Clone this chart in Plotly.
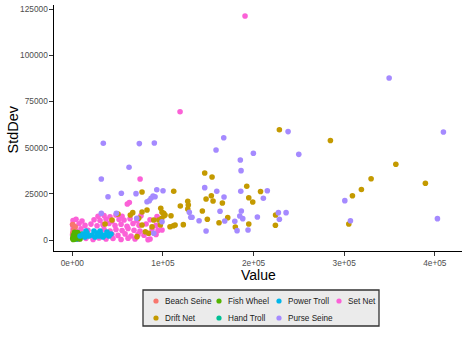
import plotly.graph_objects as go

# Gear types (alphabetical, as in the legend) and their hue palette
gears = ["Beach Seine", "Drift Net", "Fish Wheel", "Hand Troll",
         "Power Troll", "Purse Seine", "Set Net"]
gear_colors = ["#F8766D", "#C49A00", "#53B400", "#00C094",
               "#00B6EB", "#A58AFF", "#FB61D7"]

# ---- Value / StdDev per gear type ----
beach_seine_value = [400, 1800, 3200, 600]
beach_seine_sd = [8400, 5600, 7200, 3900]

drift_net_value = [228500, 284800, 357000, 389600, 329700, 319000, 309100, 305100,
                   146100, 154200, 153400, 147600, 155300, 165600, 192500, 207700,
                   194700, 199100, 171500, 161900, 179900, 194700, 224300, 224100,
                   149000, 143500, 127400, 127400, 119200, 122500, 111900, 76950,
                   128000, 111500, 108900, 101200, 97600, 99000, 102300, 98700,
                   107800, 113400, 64000, 66700, 73300, 76950, 80600, 82450,
                   84350, 88000, 89850, 95400, 97150, 100900, 71400, 76950,
                   43800, 50450, 36100]
drift_net_sd = [59750, 53900, 41000, 30700, 33200, 27350, 24000, 8650,
                36300, 34150, 24000, 22200, 21150, 20050, 29100, 26250,
                22900, 20600, 12100, 9350, 7050, 8650, 13550, 7950,
                11200, 15700, 16800, 20950, 18400, 8300, 26400, 26000,
                18950, 7750, 13150, 13150, 17150, 15000, 13550, 11750,
                7200, 8150, 13550, 14800, 11750, 8150, 4500, 16250,
                3650, 7200, 10850, 10850, 8150, 14450, 1800, 15150,
                10850, 14100, 8650]

fish_wheel_value = [500, 1200, 2000, 3000, 3800, 4500, 5500, 6500, 7500, 8500,
                    9500, 2500, 6000, 10500, 1000]
fish_wheel_sd = [1000, 2600, 400, 1800, 3500, 800, 2300, 1200, 3000, 600,
                 1900, 4200, 4000, 3100, 300]

hand_troll_value = [2200, 4800, 6800]
hand_troll_sd = [1200, 600, 2100]

power_troll_value = [8500, 11800, 14000, 16200, 18400, 21700, 25000, 27300, 29500,
                     31700, 33900, 36100, 38300, 40500, 42700, 15100, 23900, 30600]
power_troll_sd = [2170, 3250, 1630, 3790, 2170, 2710, 1630, 3790, 2170,
                  3250, 1630, 2710, 4330, 2170, 3250, 4880, 4880, 4880]

purse_seine_value = [349600, 409500, 238100, 167100, 90500, 73950, 34200, 158600,
                     199800, 249900, 185400, 186200, 62600, 32000, 146100, 159400,
                     167400, 163000, 185900, 215200, 210800, 186500, 184800, 188100,
                     204200, 168200, 179300, 181800, 193900, 227400, 235900, 228500,
                     300700, 306900, 402900, 147600, 139900, 130700, 129100, 100100,
                     93200, 70300, 54100, 39400, 32000, 48600, 89100, 86900,
                     85000, 91300, 82450, 132100, 99000, 89900, 71100]
purse_seine_sd = [87750, 58500, 58700, 55400, 52550, 52200, 52400, 48750,
                  46950, 46400, 43350, 37550, 39400, 33050, 28350, 26400,
                  23300, 15550, 26400, 26700, 22600, 15700, 13000, 11550,
                  12450, 10300, 10150, 5050, 5400, 14800, 14800, 11200,
                  21300, 10450, 11550, 4900, 10450, 12300, 15000, 26700,
                  27250, 25100, 25300, 23450, 14450, 14450, 23850, 22600,
                  21300, 23450, 20750, 12300, 9900, 3650, 11750]

set_net_value = [800, 6300, 15100, 22900, 29500, 37200, 44900, 53800, 61500, 69200, 83600, 85800,
                 300, 1900, 43800, 50400, 58200, 64800, 72500, 79100, 92400,
                 800, 4100, 9600, 17300, 35000, 41600, 48200, 54900, 61500, 68100, 74700, 88000, 94600,
                 300, 770, 7400, 14000, 20600, 27300, 33900, 40500, 47100, 53800, 60400, 67000,
                 73600, 81400, 92400,
                 800, 4100, 10700, 24000, 30600, 37200, 43800, 51600, 57100, 63700, 71400, 85800,
                 28400, 35000, 41600, 48200, 54900, 75800, 93500,
                 190600, 118900, 74800, 60700, 62900, 99000]
set_net_sd = [700, 400, 900, 300, 1100, 500, 800, 300, 1000, 600, 200, 500,
              2900, 2300, 3100, 2500, 3300, 2200, 2900, 2600, 3000,
              5600, 5000, 6000, 5300, 5800, 4900, 5700, 5100, 6200, 5300, 4800, 5900, 5200,
              8400, 7600, 8800, 7900, 8600, 7700, 8300, 9000, 7800, 8500, 7400, 8900,
              8000, 8700, 7900,
              10500, 11200, 10300, 11000, 10600, 11400, 10200, 11100, 10800, 11500, 10400, 11000,
              12800, 13300, 12600, 13500, 12900, 13200, 12700,
              121300, 69500, 33000, 19500, 20300, 5400]

x_tick_vals = [0, 100000, 200000, 300000, 400000]
x_tick_text = ["0e+00", "1e+05", "2e+05", "3e+05", "4e+05"]
y_tick_vals = [0, 25000, 50000, 75000, 100000, 125000]
y_tick_text = ["0", "25000", "50000", "75000", "100000", "125000"]

series = {
    "Beach Seine": (beach_seine_value, beach_seine_sd),
    "Drift Net": (drift_net_value, drift_net_sd),
    "Fish Wheel": (fish_wheel_value, fish_wheel_sd),
    "Hand Troll": (hand_troll_value, hand_troll_sd),
    "Power Troll": (power_troll_value, power_troll_sd),
    "Purse Seine": (purse_seine_value, purse_seine_sd),
    "Set Net": (set_net_value, set_net_sd),
}
color_of = dict(zip(gears, gear_colors))

# ---- page geometry ----
W, H = 474, 338
ML, MR, MT, MB = 54, 12, 5, 87
PW, PH = W - ML - MR, H - MT - MB


def px(x):
    return (x - ML) / PW


def py(y):
    return (H - MB - y) / PH


FONT = "Liberation Sans, Arial, Helvetica, sans-serif"

fig = go.Figure()

draw_order = ["Set Net", "Beach Seine", "Hand Troll", "Fish Wheel",
              "Power Troll", "Drift Net", "Purse Seine"]
for name in draw_order:
    xs, ys = series[name]
    fig.add_trace(go.Scatter(
        x=xs, y=ys, mode="markers", name=name, showlegend=False,
        marker=dict(size=5.6, color=color_of[name], line=dict(width=0)),
    ))

# ---- legend box below the panel (two rows, filled column by column) ----
shapes = [dict(type="rect", xref="paper", yref="paper",
               x0=px(143), x1=px(379), y0=py(326), y1=py(290),
               fillcolor="#EBEBEB", line=dict(color="#333333", width=1.3),
               layer="above")]
annotations = []
col_dot_x = [156, 219, 279, 339]
row_y = [301, 318]
for i, name in enumerate(gears):
    col, row = i // 2, i % 2
    cx, cy = col_dot_x[col], row_y[row]
    shapes.append(dict(type="circle", xref="paper", yref="paper",
                       xsizemode="pixel", ysizemode="pixel",
                       xanchor=px(cx), yanchor=py(cy),
                       x0=-2.6, x1=2.6, y0=-2.6, y1=2.6,
                       fillcolor=color_of[name], line=dict(width=0),
                       layer="above"))
    annotations.append(dict(xref="paper", yref="paper", x=px(cx + 6.5), y=py(cy),
                            text=name, showarrow=False, xanchor="left",
                            yanchor="middle",
                            font=dict(family=FONT, size=8.2, color="#1A1A1A")))

# axis titles
annotations.append(dict(xref="paper", yref="paper", x=px(258), y=py(275),
                        text="Value", showarrow=False, xanchor="center",
                        yanchor="middle",
                        font=dict(family=FONT, size=14, color="black")))
annotations.append(dict(xref="paper", yref="paper", x=px(12.5), y=py(130),
                        text="StdDev", showarrow=False, textangle=-90,
                        xanchor="center", yanchor="middle",
                        font=dict(family=FONT, size=14.5, color="black")))

fig.update_layout(
    width=W, height=H,
    margin=dict(l=ML, r=MR, t=MT, b=MB, pad=0),
    paper_bgcolor="white", plot_bgcolor="white",
    font=dict(family=FONT),
    shapes=shapes, annotations=annotations,
    showlegend=False,
)

axis_common = dict(
    showgrid=False, zeroline=False,
    showline=True, linecolor="black", linewidth=1.1,
    ticks="outside", ticklen=3.5, tickwidth=1, tickcolor="#333333",
    tickfont=dict(family=FONT, size=8.3, color="#4D4D4D"),
)
fig.update_xaxes(
    range=[-20200, 430000], tickmode="array",
    tickvals=x_tick_vals, ticktext=x_tick_text,
    **axis_common,
)
fig.update_yaxes(
    range=[-5960, 127280], tickmode="array",
    tickvals=y_tick_vals, ticktext=y_tick_text,
    **axis_common,
)

fig.write_html("out.html")
